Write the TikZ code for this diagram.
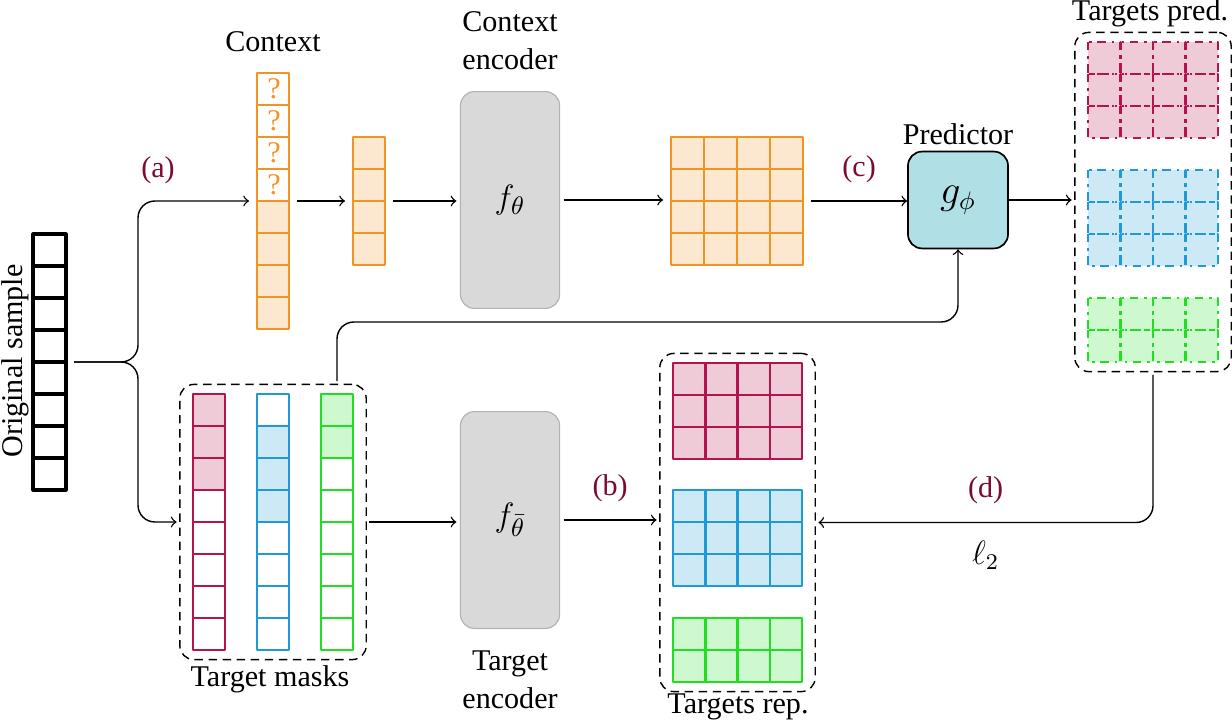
\documentclass[tikz,border=0pt]{standalone}
\usepackage{fontspec}
\setmainfont{Liberation Serif}
\usetikzlibrary{fit}

\definecolor{ctxorange}{HTML}{F39323}
\definecolor{tgtred}{HTML}{B5134F}
\definecolor{tgtblue}{HTML}{1F9AD6}
\definecolor{tgtgreen}{HTML}{22DD22}
\definecolor{stepred}{HTML}{7A0C32}
\definecolor{predcyan}{HTML}{B0E0E6}
\definecolor{encgray}{HTML}{D9D9D9}

\tikzset{
  cellline/.style={line width=0.9pt, line join=round},
  blockfit/.style={inner sep=0pt, outer sep=0.1cm},
  groupbox/.style={draw, line width=0.5pt, dash pattern=on 3pt off 2pt, rounded corners=5pt,
    inner xsep=0.065cm, inner ysep=0.02cm, outer sep=0.04cm},
  encbox/.style={draw=gray!60, fill=encgray, rounded corners=5pt, font=\fontsize{13}{15}\selectfont,
    minimum width=1.24cm, minimum height=2.71cm, outer sep=0.05cm},
  predbox/.style={draw, semithick, fill=predcyan, rounded corners=5pt, font=\fontsize{13.5}{15}\selectfont,
    minimum width=1.25cm, minimum height=1.21cm},
  steplbl/.style={text=stepred},
  flow/.style={->, line width=0.5pt},
}

% cells of one block: name, x, y, cols, rows, cell width, cell height, line style
\newcommand{\cellgrid}[8]{%
  \foreach \i in {1,...,#4}
    \foreach \j in {1,...,#5}
      \draw[cellline, #8] ({#2+(\i-1)*#6},{#3+(\j-1)*#7}) rectangle ++(#6,#7);
  \node[blockfit, fit={(#2,#3) ({#2+#4*#6},{#3+#5*#7})}] (#1) {};
}

\begin{document}
\begin{tikzpicture}[x=0.0125cm, y=-0.0125cm, font=\fontsize{10.7}{13.5}\selectfont]
  \useasboundingbox (0,0) rectangle (1232,726);

  % original sample
  \cellgrid{orig}{33}{234}{1}{8}{33}{32}{line width=1.1pt}
  \node[rotate=90] (origlbl) at (15,361) {Original sample};

  % context branch
  \fill[ctxorange!22] (257,201) rectangle ++(32,128);
  \cellgrid{ctx}{257}{73}{1}{8}{32}{32}{ctxorange}
  \foreach \j in {1,...,4}
    \node[text=ctxorange] (q\j) at (274,{73+(\j-0.5)*32}) {?};
  \node (ctxlbl) at (273,42) {Context};
  \fill[ctxorange!22] (353,137) rectangle ++(32,128);
  \cellgrid{ctxs}{353}{137}{1}{4}{32}{32}{ctxorange}
  \node[encbox] (cenc) at (510,200) {$f_\theta$};
  \node[align=center] (cenclbl) at (510,41) {Context\\encoder};
  \fill[ctxorange!22] (671,137) rectangle ++(132,128);
  \cellgrid{ctxrep}{671}{137}{4}{4}{33}{32}{ctxorange}
  \node[predbox] (pred) at (958,200) {$g_\phi$};
  \node (predlbl) at (958,134) {Predictor};

  % predicted targets
  \fill[tgtred!22] (1088,42) rectangle ++(130,96);
  \cellgrid{predA}{1088}{42}{4}{3}{32.5}{32}{tgtred, dash dot}
  \fill[tgtblue!22] (1088,170) rectangle ++(130,96);
  \cellgrid{predB}{1088}{170}{4}{3}{32.5}{32}{tgtblue, dash dot}
  \fill[tgtgreen!22] (1088,298) rectangle ++(130,64);
  \cellgrid{predC}{1088}{298}{4}{2}{32.5}{32}{tgtgreen, dash dot}
  \node[groupbox, fit=(predA)(predC)] (tpred) {};
  \node (tpredlbl) at (1150,13) {Targets pred.};

  % target masks
  \fill[tgtred!22] (193,394) rectangle ++(32,96);
  \fill[tgtblue!22] (257,426) rectangle ++(32,96);
  \fill[tgtgreen!22] (321,394) rectangle ++(32,64);
  \cellgrid{maskA}{193}{394}{1}{8}{32}{32}{tgtred}
  \cellgrid{maskB}{257}{394}{1}{8}{32}{32}{tgtblue}
  \cellgrid{maskC}{321}{394}{1}{8}{32}{32}{tgtgreen}
  \node[groupbox, fit=(maskA)(maskC)] (masks) {};
  \node (maskslbl) at (270,679) {Target masks};

  % target branch
  \node[encbox] (tenc) at (510,520) {$f_{\bar\theta}$};
  \node[align=center] (tenclbl) at (510,680) {Target\\encoder};
  \fill[tgtred!22] (673,363) rectangle ++(129,96);
  \cellgrid{repA}{673}{363}{4}{3}{32.25}{32}{tgtred}
  \fill[tgtblue!22] (673,490) rectangle ++(129,96);
  \cellgrid{repB}{673}{490}{4}{3}{32.25}{32}{tgtblue}
  \fill[tgtgreen!22] (673,618) rectangle ++(129,64);
  \cellgrid{repC}{673}{618}{4}{2}{32.25}{32}{tgtgreen}
  \node[groupbox, fit=(repA)(repC)] (trep) {};
  \node (treplbl) at (738,707) {Targets rep.};

  % connectors
  \coordinate (fork) at (138,362);
  \draw[flow, rounded corners=6pt] (orig.east) -- (fork) |- (ctx.west);
  \draw[flow, rounded corners=6pt] (orig.east) -- (fork) |- (masks.west);
  \node[steplbl] (la) at (158,170) {(a)};
  \draw[flow] (ctx.east) -- (ctxs.west);
  \draw[flow] (ctxs.east) -- (ctxs.east -| cenc.west);
  \draw[flow] (cenc.east) -- (cenc.east -| ctxrep.west);
  \draw[flow] (ctxrep.east) -- (ctxrep.east -| pred.west)
    node[steplbl, midway, above=3pt] (lc) {(c)};
  \draw[flow] (pred.east) -- (pred.east -| tpred.west);
  \coordinate (bend) at (600,322);
  \draw[flow, rounded corners=6pt] (maskC.north |- masks.north) |- (bend) -| (pred.south);
  \draw[flow] (masks.east) -- (masks.east -| tenc.west);
  \draw[flow] (tenc.east) -- (tenc.east -| trep.west)
    node[steplbl, midway, above=3pt] (lb) {(b)};
  \draw[flow, rounded corners=6pt] (tpred.south) |- (trep.east)
    node[steplbl, pos=0.75, above=3pt] (ld) {(d)}
    node[pos=0.75, below=3pt, font=\fontsize{12}{14}\selectfont] (ll) {$\ell_2$};
\end{tikzpicture}
\end{document}
